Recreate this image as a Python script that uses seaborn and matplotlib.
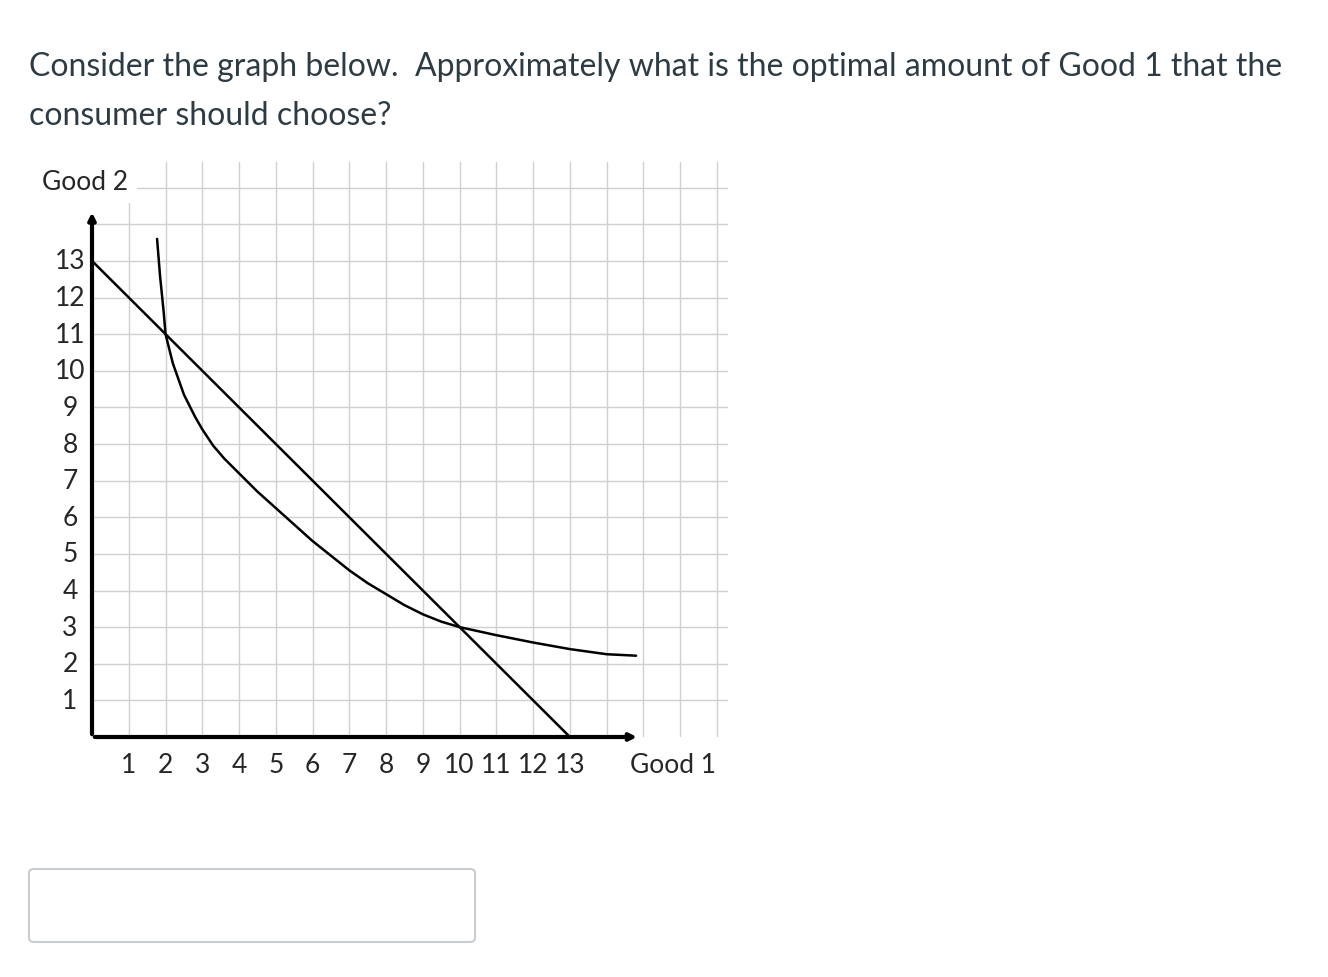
import matplotlib.pyplot as plt
import matplotlib.patches as mpatches
import seaborn as sns
import pandas as pd

sns.set_style("white")
plt.rcParams['font.family'] = ['Lato', 'DejaVu Sans']

budget_x = [0, 13]
budget_y = [13, 0]
curve_x = [1.77, 1.85, 1.95, 2.0, 2.2, 2.5, 2.8, 3.0, 3.3, 3.6, 4.0, 4.5, 5.0, 5.5, 6.0, 6.5, 7.0, 7.5, 8.0,
           8.5, 9.0, 9.5, 10.0, 11.0, 12.0, 13.0, 14.0, 14.8]
curve_y = [13.6, 12.6, 11.6, 11.0, 10.2, 9.35, 8.75, 8.4, 7.95, 7.6, 7.2, 6.7, 6.25, 5.8, 5.35, 4.95, 4.55,
           4.2, 3.9, 3.6, 3.35, 3.15, 3.0, 2.78, 2.58, 2.4, 2.26, 2.22]
x_ticks = list(range(1, 14))
y_ticks = list(range(1, 14))

fig = plt.figure(figsize=(13.28, 9.78), dpi=100)
fig.text(29/1328, 1 - 67/978, "Consider the graph below.  Approximately what is the optimal amount of Good 1 that the",
         fontsize=23, va='center', color='#2d3b45')
fig.text(29/1328, 1 - 116/978, "consumer should choose?", fontsize=23, va='center', color='#2d3b45')

ax = fig.add_axes([92/1328, (978-738)/978, 636/1328, 575/978])
ax.set_xlim(0, 17.3)
ax.set_ylim(0, 15.7)
ax.set_xticks(range(1, 18))
ax.set_yticks(range(1, 16))
ax.grid(True, color='#d0d0d0', lw=1)
ax.tick_params(length=0, labelbottom=False, labelleft=False)
for s in ax.spines.values():
    s.set_visible(False)

# axes with arrows
ax.annotate('', xy=(14.9, 0), xytext=(0, 0), annotation_clip=False,
            arrowprops=dict(arrowstyle='-|>', lw=3, color='black', mutation_scale=10))
ax.annotate('', xy=(0, 14.4), xytext=(0, 0), annotation_clip=False,
            arrowprops=dict(arrowstyle='-|>', lw=3, color='black', mutation_scale=10))

sns.lineplot(data=pd.DataFrame({'x': budget_x, 'y': budget_y}), x='x', y='y', ax=ax, color='black', lw=1.8)
sns.lineplot(data=pd.DataFrame({'x': curve_x, 'y': curve_y}), x='x', y='y', ax=ax, color='black', lw=1.8,
             sort=False, estimator=None)
ax.set_xlabel('')
ax.set_ylabel('')

for v in x_ticks:
    ax.text(v, -0.75, str(v), ha='center', va='center', fontsize=19, clip_on=False)
for v in y_ticks:
    ax.text(-0.6, v, str(v), ha='center', va='center', fontsize=19, clip_on=False)
ax.text(15.8, -0.75, "Good 1", ha='center', va='center', fontsize=19, clip_on=False)
fig.text(85/1328, 1 - 183/978, "Good 2", ha='center', va='center', fontsize=19,
         bbox=dict(facecolor='white', edgecolor='none', pad=6))

box = mpatches.FancyBboxPatch((29/1328, 1 - 943/978), 446/1328, 73/978,
                              boxstyle='round,pad=0,rounding_size=0.004', transform=fig.transFigure,
                              facecolor='white', edgecolor='#c7cdd1', lw=1.5)
fig.patches.append(box)

fig.savefig('out.png', dpi=100)
